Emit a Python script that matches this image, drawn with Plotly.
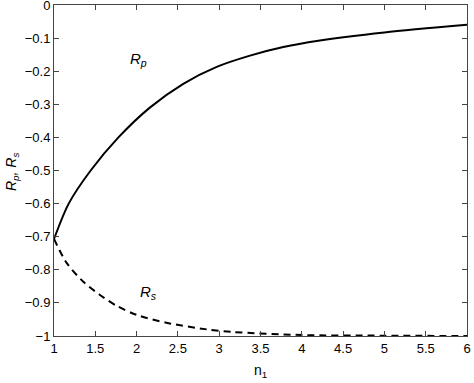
import plotly.graph_objects as go

rp_n1 = [1.0, 1.178, 1.444, 1.78, 2.16, 2.565, 2.97, 3.373, 3.776, 4.2, 5.0, 6.0]
rp = [-0.707, -0.600, -0.500, -0.400, -0.310, -0.238, -0.187, -0.153, -0.127, -0.108, -0.083, -0.060]

rs_n1 = [1.0, 1.155, 1.355, 1.557, 1.76, 2.0, 2.36, 2.85, 3.17, 4.0, 5.0, 6.0]
rs = [-0.707, -0.780, -0.836, -0.876, -0.909, -0.936, -0.960, -0.980, -0.988, -0.997, -0.999, -1.0]

x_ticks = [1, 1.5, 2, 2.5, 3, 3.5, 4, 4.5, 5, 5.5, 6]
y_ticks = [0, -0.1, -0.2, -0.3, -0.4, -0.5, -0.6, -0.7, -0.8, -0.9, -1]

font = "Liberation Sans, Arial, sans-serif"

fig = go.Figure()
fig.add_trace(go.Scatter(x=rp_n1, y=rp, mode="lines",
                         line=dict(color="black", width=2, shape="spline", smoothing=0.8), showlegend=False))
fig.add_trace(go.Scatter(x=rs_n1, y=rs, mode="lines",
                         line=dict(color="black", width=2, dash="7px,5px", shape="spline", smoothing=0.8), showlegend=False))

fig.add_annotation(x=2.02, y=-0.166, text="<i>R<sub>p</sub></i>", showarrow=False, font=dict(family=font, size=15, color="black"))
fig.add_annotation(x=2.14, y=-0.868, text="<i>R<sub>s</sub></i>", showarrow=False, font=dict(family=font, size=15, color="black"))

# axis titles
fig.add_annotation(x=0.5, y=-0.106, xref="paper", yref="paper", text="n<sub>1</sub>", showarrow=False,
                   xanchor="center", yanchor="middle", font=dict(family=font, size=14, color="black"))
fig.add_annotation(x=-0.102, y=0.495, xref="paper", yref="paper", text="<i>R<sub>p</sub>, R<sub>s</sub></i>",
                   showarrow=False, textangle=-90, xanchor="center", yanchor="middle",
                   font=dict(family=font, size=14, color="black"))

axis_common = dict(showline=True, linecolor="#444", linewidth=1, mirror="ticks", ticks="inside", ticklen=5,
                   tickcolor="#444", showgrid=False, zeroline=False, automargin=False, ticklabeloverflow="allow",
                   tickfont=dict(family=font, size=13, color="black"))

fig.update_xaxes(range=[1, 6], tickvals=x_ticks, ticktext=[f"{v:g}" for v in x_ticks], **axis_common)
fig.update_yaxes(range=[-1, 0], tickvals=y_ticks, ticktext=[("\u2212" + f"{-v:g}") if v < 0 else "0" for v in y_ticks],
                 **axis_common)

fig.update_layout(width=474, height=383, margin=dict(l=54, r=7, t=5, b=47),
                  plot_bgcolor="white", paper_bgcolor="white")

fig.write_html("out.html", config={"displayModeBar": False},
               post_script="document.body.style.margin='0';document.body.style.overflow='hidden';")
